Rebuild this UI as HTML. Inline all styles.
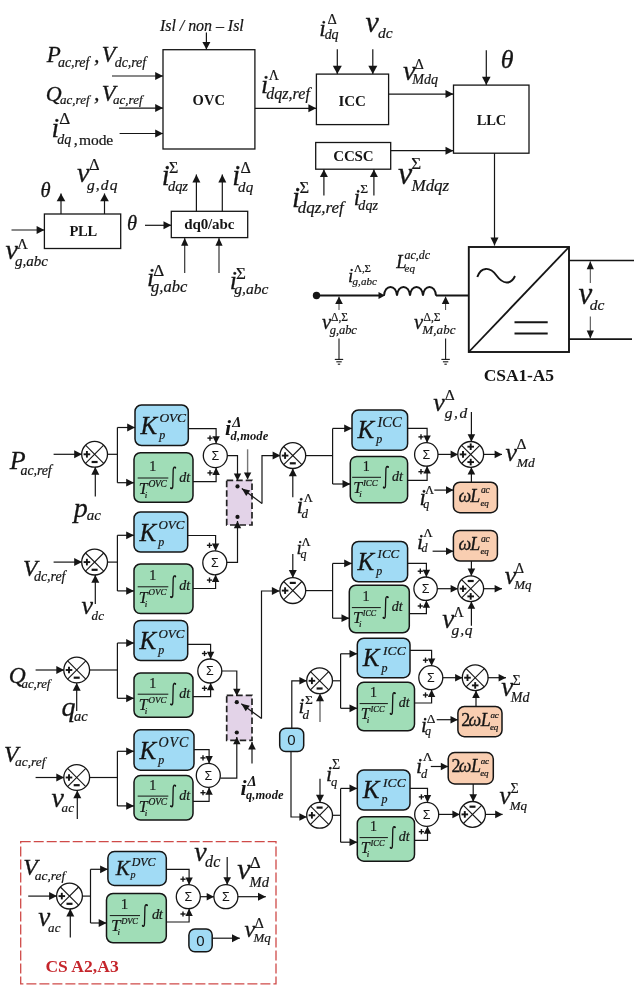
<!DOCTYPE html>
<html><head><meta charset="utf-8"><title>Control diagram</title>
<style>html,body{margin:0;padding:0;background:#fff}svg{display:block;will-change:transform;opacity:0.999}</style></head>
<body><svg width="634" height="987" viewBox="0 0 634 987">
<rect width="634" height="987" fill="#fff"/>
<rect x="163.0" y="49.7" width="91.9" height="99.3" rx="0" fill="#fff" stroke="#151515" stroke-width="1.3"/>
<text x="192.60" y="105.30" font-family="Liberation Serif" font-size="14.5" font-weight="bold" fill="#151515" letter-spacing="0.07">OVC</text>
<text x="160.03" y="30.80" font-family="Liberation Serif" font-size="16.0" font-style="italic" fill="#151515" letter-spacing="-0.05" stroke="#151515" stroke-width="0.20">Isl / non – Isl</text>
<polyline points="206.4,32.5 206.4,49.5" fill="none" stroke="#151515" stroke-width="1.2"/>
<polygon points="206.4,49.5 202.4,41.9 210.4,41.9" fill="#151515"/>
<text x="46.73" y="61.80" font-family="Liberation Serif" font-size="23" font-style="italic" fill="#151515" stroke="#151515" stroke-width="0.30">P</text>
<text x="58.00" y="67.40" font-family="Liberation Serif" font-size="14.0" font-style="italic" fill="#151515" letter-spacing="-0.08" stroke="#151515" stroke-width="0.20">ac,ref</text>
<text x="94.00" y="62.00" font-family="Liberation Serif" font-size="22" font-style="italic" fill="#151515" stroke="#151515" stroke-width="0.30">,</text>
<text x="101.80" y="61.80" font-family="Liberation Serif" font-size="22.5" font-style="italic" fill="#151515" stroke="#151515" stroke-width="0.30">V</text>
<text x="114.80" y="67.40" font-family="Liberation Serif" font-size="14.0" font-style="italic" fill="#151515" letter-spacing="-0.08" stroke="#151515" stroke-width="0.20">dc,ref</text>
<polyline points="112.0,76.0 163.0,76.0" fill="none" stroke="#151515" stroke-width="1.2"/>
<polygon points="163.0,76.0 155.2,72.0 155.2,80.0" fill="#151515"/>
<text x="45.70" y="101.20" font-family="Liberation Serif" font-size="22" font-style="italic" fill="#151515" stroke="#151515" stroke-width="0.30">Q</text>
<text x="60.00" y="104.40" font-family="Liberation Serif" font-size="13.0" font-style="italic" fill="#151515" letter-spacing="0.02" stroke="#151515" stroke-width="0.20">ac,ref</text>
<text x="94.00" y="100.00" font-family="Liberation Serif" font-size="22" font-style="italic" fill="#151515" stroke="#151515" stroke-width="0.30">,</text>
<text x="101.80" y="100.80" font-family="Liberation Serif" font-size="22.5" font-style="italic" fill="#151515" stroke="#151515" stroke-width="0.30">V</text>
<text x="112.90" y="104.40" font-family="Liberation Serif" font-size="13.0" font-style="italic" fill="#151515" letter-spacing="0.04" stroke="#151515" stroke-width="0.20">ac,ref</text>
<polyline points="119.0,108.1 163.0,108.1" fill="none" stroke="#151515" stroke-width="1.2"/>
<polygon points="163.0,108.1 155.2,104.1 155.2,112.1" fill="#151515"/>
<text x="51.40" y="137.40" font-family="Liberation Serif" font-size="27.5" font-style="italic" fill="#151515" stroke="#151515" stroke-width="0.30">i</text>
<text x="59.20" y="124.20" font-family="Liberation Serif" font-size="17.0"  fill="#151515" stroke="#151515" stroke-width="0.20">Δ</text>
<text x="57.30" y="144.00" font-family="Liberation Serif" font-size="14.0" font-style="italic" fill="#151515" letter-spacing="-0.10" stroke="#151515" stroke-width="0.20">dq</text>
<text x="73.80" y="144.50" font-family="Liberation Serif" font-size="16"  fill="#151515" stroke="#151515" stroke-width="0.20">,</text>
<text x="79.00" y="144.50" font-family="Liberation Serif" font-size="15.5"  fill="#151515" letter-spacing="-0.09" stroke="#151515" stroke-width="0.20">mode</text>
<polyline points="119.6,133.5 163.0,133.5" fill="none" stroke="#151515" stroke-width="1.2"/>
<polygon points="163.0,133.5 155.2,129.5 155.2,137.5" fill="#151515"/>
<polyline points="254.9,108.3 316.2,108.3" fill="none" stroke="#151515" stroke-width="1.2"/>
<polygon points="316.2,108.3 308.4,104.3 308.4,112.3" fill="#151515"/>
<text x="261.10" y="92.60" font-family="Liberation Serif" font-size="26" font-style="italic" fill="#151515" stroke="#151515" stroke-width="0.30">i</text>
<text x="268.70" y="79.60" font-family="Liberation Serif" font-size="14.0"  fill="#151515" stroke="#151515" stroke-width="0.20">Λ</text>
<text x="266.20" y="98.50" font-family="Liberation Serif" font-size="16.0" font-style="italic" fill="#151515" letter-spacing="0.04" stroke="#151515" stroke-width="0.20">dqz,ref</text>
<rect x="316.4" y="74.1" width="72.2" height="50.5" rx="0" fill="#fff" stroke="#151515" stroke-width="1.3"/>
<text x="338.45" y="105.50" font-family="Liberation Serif" font-size="15.0" font-weight="bold" fill="#151515">ICC</text>
<text x="319.30" y="35.70" font-family="Liberation Serif" font-size="23.5" font-style="italic" fill="#151515" stroke="#151515" stroke-width="0.30">i</text>
<text x="327.40" y="23.70" font-family="Liberation Serif" font-size="14.5"  fill="#151515" stroke="#151515" stroke-width="0.20">Δ</text>
<text x="324.70" y="39.40" font-family="Liberation Serif" font-size="14.0" font-style="italic" fill="#151515" letter-spacing="-0.20" stroke="#151515" stroke-width="0.20">dq</text>
<polyline points="337.3,49.3 337.3,74.0" fill="none" stroke="#151515" stroke-width="1.2"/>
<polygon points="337.3,74.0 332.8,65.7 341.8,65.7" fill="#151515"/>
<text x="365.40" y="31.60" font-family="Liberation Serif" font-size="30" font-style="italic" fill="#151515" stroke="#151515" stroke-width="0.30">v</text>
<text x="378.00" y="37.50" font-family="Liberation Serif" font-size="15.5" font-style="italic" fill="#151515" letter-spacing="-0.12" stroke="#151515" stroke-width="0.20">dc</text>
<polyline points="372.8,49.3 372.8,74.0" fill="none" stroke="#151515" stroke-width="1.2"/>
<polygon points="372.8,74.0 368.3,65.7 377.3,65.7" fill="#151515"/>
<polyline points="388.6,94.1 453.3,94.1" fill="none" stroke="#151515" stroke-width="1.2"/>
<polygon points="453.3,94.1 445.5,90.1 445.5,98.1" fill="#151515"/>
<text x="403.00" y="80.20" font-family="Liberation Serif" font-size="28" font-style="italic" fill="#151515" stroke="#151515" stroke-width="0.30">v</text>
<text x="414.50" y="68.70" font-family="Liberation Serif" font-size="14.5"  fill="#151515" stroke="#151515" stroke-width="0.20">Δ</text>
<text x="412.25" y="84.30" font-family="Liberation Serif" font-size="14.0" font-style="italic" fill="#151515" letter-spacing="0.06" stroke="#151515" stroke-width="0.20">Mdq</text>
<rect x="453.5" y="85.1" width="75.5" height="68.1" rx="0" fill="#fff" stroke="#151515" stroke-width="1.3"/>
<text x="476.85" y="124.70" font-family="Liberation Serif" font-size="14.5" font-weight="bold" fill="#151515" letter-spacing="-0.19">LLC</text>
<polyline points="486.3,50.3 486.3,85.0" fill="none" stroke="#151515" stroke-width="1.2"/>
<polygon points="486.3,85.0 482.0,76.7 490.6,76.7" fill="#151515"/>
<text x="500.70" y="67.90" font-family="Liberation Serif" font-size="26" font-style="italic" fill="#151515" stroke="#151515" stroke-width="0.30">θ</text>
<rect x="315.7" y="142.5" width="75.0" height="26.7" rx="0" fill="#fff" stroke="#151515" stroke-width="1.3"/>
<text x="333.30" y="161.20" font-family="Liberation Serif" font-size="15.0" font-weight="bold" fill="#151515" letter-spacing="-0.22">CCSC</text>
<polyline points="390.7,150.7 453.3,150.7" fill="none" stroke="#151515" stroke-width="1.2"/>
<polygon points="453.3,150.7 445.5,146.7 445.5,154.7" fill="#151515"/>
<text x="398.00" y="184.10" font-family="Liberation Serif" font-size="32" font-style="italic" fill="#151515" stroke="#151515" stroke-width="0.30">v</text>
<text x="411.30" y="169.30" font-family="Liberation Serif" font-size="17.0"  fill="#151515" stroke="#151515" stroke-width="0.20">Σ</text>
<text x="411.55" y="190.80" font-family="Liberation Serif" font-size="17.0" font-style="italic" fill="#151515" letter-spacing="-0.07" stroke="#151515" stroke-width="0.20">Mdqz</text>
<polyline points="323.9,195.4 323.9,169.4" fill="none" stroke="#151515" stroke-width="1.2"/>
<polygon points="323.9,169.4 319.9,177.0 327.9,177.0" fill="#151515"/>
<polyline points="373.9,195.4 373.9,169.4" fill="none" stroke="#151515" stroke-width="1.2"/>
<polygon points="373.9,169.4 369.9,177.0 377.9,177.0" fill="#151515"/>
<text x="292.10" y="206.80" font-family="Liberation Serif" font-size="29" font-style="italic" fill="#151515" stroke="#151515" stroke-width="0.30">i</text>
<text x="299.40" y="193.20" font-family="Liberation Serif" font-size="16.5"  fill="#151515" stroke="#151515" stroke-width="0.20">Σ</text>
<text x="297.80" y="212.50" font-family="Liberation Serif" font-size="17.0" font-style="italic" fill="#151515" letter-spacing="-0.02" stroke="#151515" stroke-width="0.20">dqz,ref</text>
<text x="353.70" y="204.50" font-family="Liberation Serif" font-size="22.5" font-style="italic" fill="#151515" stroke="#151515" stroke-width="0.30">i</text>
<text x="360.20" y="193.20" font-family="Liberation Serif" font-size="13.5"  fill="#151515" stroke="#151515" stroke-width="0.20">Σ</text>
<text x="358.30" y="210.40" font-family="Liberation Serif" font-size="14.0" font-style="italic" fill="#151515" letter-spacing="0.15" stroke="#151515" stroke-width="0.20">dqz</text>
<polyline points="494.5,153.2 494.5,245.5" fill="none" stroke="#151515" stroke-width="1.2"/>
<polygon points="494.5,245.5 490.5,237.5 498.5,237.5" fill="#151515"/>
<rect x="468.8" y="247.0" width="100.2" height="105.0" rx="0" fill="#fff" stroke="#151515" stroke-width="1.9"/>
<polyline points="468.8,352.0 569.0,247.0" fill="none" stroke="#151515" stroke-width="1.8"/>
<path d="M477.3,277 C481,266.5 490,266.5 496.5,275.5 C503,284.5 511,285 515,276" fill="none" stroke="#151515" stroke-width="1.9"/>
<polyline points="514.5,322.2 547.7,322.2" fill="none" stroke="#151515" stroke-width="2"/>
<polyline points="514.5,333.5 547.7,333.5" fill="none" stroke="#151515" stroke-width="2"/>
<polyline points="569.0,260.5 634.0,260.5" fill="none" stroke="#151515" stroke-width="1.7"/>
<polyline points="569.0,339.2 632.0,339.2" fill="none" stroke="#151515" stroke-width="1.7"/>
<polyline points="590.3,283.0 590.3,261.3" fill="none" stroke="#444" stroke-width="1"/>
<polygon points="590.3,261.3 586.7,269.3 593.9,269.3" fill="#151515"/>
<polyline points="590.3,316.5 590.3,338.4" fill="none" stroke="#444" stroke-width="1"/>
<polygon points="590.3,338.4 586.7,330.4 593.9,330.4" fill="#151515"/>
<text x="578.40" y="304.00" font-family="Liberation Serif" font-size="31" font-style="italic" fill="#151515" stroke="#151515" stroke-width="0.30">v</text>
<text x="589.70" y="310.20" font-family="Liberation Serif" font-size="15.5" font-style="italic" fill="#151515" letter-spacing="0.18" stroke="#151515" stroke-width="0.20">dc</text>
<text x="483.80" y="381.20" font-family="Liberation Serif" font-size="17.5" font-weight="bold" fill="#151515" letter-spacing="-0.13">CSA1-A5</text>
<circle cx="316.5" cy="295.5" r="3.7" fill="#151515"/>
<polyline points="316.5,295.5 381.0,295.5" fill="none" stroke="#151515" stroke-width="1.9"/>
<polygon points="385.0,295.5 378.5,292.0 378.5,299.0" fill="#151515"/>
<path d="M384,295.8 C384.5,284 396.5,284 397.0,295.8 C397.5,284 409.5,284 410.0,295.8 C410.5,284 422.5,284 423.0,295.8 C423.5,284 435.5,284 436.0,295.8 " fill="none" stroke="#151515" stroke-width="1.9"/>
<polyline points="436.0,295.5 468.8,295.5" fill="none" stroke="#151515" stroke-width="1.9"/>
<text x="348.00" y="281.80" font-family="Liberation Serif" font-size="19" font-style="italic" fill="#151515" stroke="#151515" stroke-width="0.30">i</text>
<text x="354.00" y="272.00" font-family="Liberation Serif" font-size="11.0"  fill="#151515" letter-spacing="-0.06" stroke="#151515" stroke-width="0.20">Λ,Σ</text>
<text x="352.50" y="284.70" font-family="Liberation Serif" font-size="11.0" font-style="italic" fill="#151515" letter-spacing="0.09" stroke="#151515" stroke-width="0.20">g,abc</text>
<text x="396.25" y="267.70" font-family="Liberation Serif" font-size="18.5" font-style="italic" fill="#151515" stroke="#151515" stroke-width="0.30">L</text>
<text x="404.50" y="259.00" font-family="Liberation Serif" font-size="12.0" font-style="italic" fill="#151515" letter-spacing="-0.03" stroke="#151515" stroke-width="0.20">ac,dc</text>
<text x="404.50" y="272.00" font-family="Liberation Serif" font-size="11.0" font-style="italic" fill="#151515" letter-spacing="0.12" stroke="#151515" stroke-width="0.20">eq</text>
<polyline points="339.0,310.0 339.0,296.5" fill="none" stroke="#444" stroke-width="1"/>
<polygon points="339.0,296.5 335.2,304.0 342.8,304.0" fill="#151515"/>
<polyline points="339.0,338.6 339.0,359.4" fill="none" stroke="#151515" stroke-width="1.1"/>
<polyline points="334.8,359.4 343.2,359.4" fill="none" stroke="#151515" stroke-width="1.1"/>
<polyline points="336.3,361.8 341.7,361.8" fill="none" stroke="#151515" stroke-width="1.1"/>
<polyline points="337.8,364.2 340.2,364.2" fill="none" stroke="#151515" stroke-width="1.1"/>
<polyline points="445.6,310.0 445.6,296.5" fill="none" stroke="#444" stroke-width="1"/>
<polygon points="445.6,296.5 441.8,304.0 449.4,304.0" fill="#151515"/>
<polyline points="445.6,338.6 445.6,359.4" fill="none" stroke="#151515" stroke-width="1.1"/>
<polyline points="441.4,359.4 449.8,359.4" fill="none" stroke="#151515" stroke-width="1.1"/>
<polyline points="442.9,361.8 448.3,361.8" fill="none" stroke="#151515" stroke-width="1.1"/>
<polyline points="444.4,364.2 446.8,364.2" fill="none" stroke="#151515" stroke-width="1.1"/>
<text x="322.00" y="328.70" font-family="Liberation Serif" font-size="20.5" font-style="italic" fill="#151515" stroke="#151515" stroke-width="0.30">v</text>
<text x="331.00" y="321.00" font-family="Liberation Serif" font-size="11.5"  fill="#151515" stroke="#151515" stroke-width="0.20">Δ,Σ</text>
<text x="329.80" y="334.40" font-family="Liberation Serif" font-size="12.5" font-style="italic" fill="#151515" letter-spacing="-0.09" stroke="#151515" stroke-width="0.20">g,abc</text>
<text x="414.00" y="328.70" font-family="Liberation Serif" font-size="20.5" font-style="italic" fill="#151515" stroke="#151515" stroke-width="0.30">v</text>
<text x="423.50" y="321.00" font-family="Liberation Serif" font-size="11.5"  fill="#151515" stroke="#151515" stroke-width="0.20">Δ,Σ</text>
<text x="422.25" y="334.40" font-family="Liberation Serif" font-size="13.0" font-style="italic" fill="#151515" letter-spacing="0.12" stroke="#151515" stroke-width="0.20">M,abc</text>
<rect x="44.4" y="214.0" width="76.3" height="34.5" rx="0" fill="#fff" stroke="#151515" stroke-width="1.3"/>
<text x="69.40" y="235.80" font-family="Liberation Serif" font-size="14.5" font-weight="bold" fill="#151515" letter-spacing="-0.22">PLL</text>
<polyline points="11.5,230.0 44.4,230.0" fill="none" stroke="#151515" stroke-width="1.2"/>
<polygon points="44.4,230.0 36.6,226.0 36.6,234.0" fill="#151515"/>
<text x="5.50" y="259.00" font-family="Liberation Serif" font-size="28" font-style="italic" fill="#151515" stroke="#151515" stroke-width="0.30">v</text>
<text x="17.00" y="249.00" font-family="Liberation Serif" font-size="15.0"  fill="#151515" stroke="#151515" stroke-width="0.20">Λ</text>
<text x="15.00" y="266.00" font-family="Liberation Serif" font-size="15.0" font-style="italic" fill="#151515" letter-spacing="0.03" stroke="#151515" stroke-width="0.20">g,abc</text>
<polyline points="61.0,214.0 61.0,193.5" fill="none" stroke="#151515" stroke-width="1.2"/>
<polygon points="61.0,193.5 56.7,201.3 65.3,201.3" fill="#151515"/>
<text x="40.40" y="196.70" font-family="Liberation Serif" font-size="20.5" font-style="italic" fill="#151515" stroke="#151515" stroke-width="0.30">θ</text>
<polyline points="104.5,214.0 104.5,193.5" fill="none" stroke="#151515" stroke-width="1.2"/>
<polygon points="104.5,193.5 100.2,201.3 108.8,201.3" fill="#151515"/>
<text x="77.00" y="181.50" font-family="Liberation Serif" font-size="28" font-style="italic" fill="#151515" stroke="#151515" stroke-width="0.30">v</text>
<text x="89.00" y="169.60" font-family="Liberation Serif" font-size="16.5"  fill="#151515" stroke="#151515" stroke-width="0.20">Δ</text>
<text x="87.00" y="189.50" font-family="Liberation Serif" font-size="15.5" font-style="italic" fill="#151515" letter-spacing="1.12" stroke="#151515" stroke-width="0.20">g,dq</text>
<text x="127.00" y="230.00" font-family="Liberation Serif" font-size="20.5" font-style="italic" fill="#151515" stroke="#151515" stroke-width="0.30">θ</text>
<polyline points="145.0,225.3 171.3,225.3" fill="none" stroke="#151515" stroke-width="1.2"/>
<polygon points="171.3,225.3 163.5,221.3 163.5,229.3" fill="#151515"/>
<rect x="171.3" y="211.3" width="76.4" height="26.3" rx="0" fill="#fff" stroke="#151515" stroke-width="1.3"/>
<text x="184.25" y="228.70" font-family="Liberation Serif" font-size="15.0" font-weight="bold" fill="#151515" letter-spacing="-0.13">dq0/abc</text>
<polyline points="196.4,211.3 196.4,174.6" fill="none" stroke="#151515" stroke-width="1.2"/>
<polygon points="196.4,174.6 192.4,182.4 200.4,182.4" fill="#151515"/>
<polyline points="222.3,211.3 222.3,174.6" fill="none" stroke="#151515" stroke-width="1.2"/>
<polygon points="222.3,174.6 218.3,182.4 226.3,182.4" fill="#151515"/>
<text x="161.70" y="185.00" font-family="Liberation Serif" font-size="28.5" font-style="italic" fill="#151515" stroke="#151515" stroke-width="0.30">i</text>
<text x="168.90" y="172.70" font-family="Liberation Serif" font-size="16.0"  fill="#151515" stroke="#151515" stroke-width="0.20">Σ</text>
<text x="168.00" y="190.70" font-family="Liberation Serif" font-size="14.5" font-style="italic" fill="#151515" letter-spacing="-0.11" stroke="#151515" stroke-width="0.20">dqz</text>
<text x="232.30" y="185.00" font-family="Liberation Serif" font-size="28.5" font-style="italic" fill="#151515" stroke="#151515" stroke-width="0.30">i</text>
<text x="240.50" y="172.70" font-family="Liberation Serif" font-size="16.0"  fill="#151515" stroke="#151515" stroke-width="0.20">Δ</text>
<text x="238.00" y="191.60" font-family="Liberation Serif" font-size="15.0" font-style="italic" fill="#151515" letter-spacing="0.20" stroke="#151515" stroke-width="0.20">dq</text>
<polyline points="184.7,273.0 184.7,238.0" fill="none" stroke="#333" stroke-width="1.2"/>
<polygon points="184.7,238.0 181.1,245.8 188.3,245.8" fill="#151515"/>
<polyline points="219.0,273.0 219.0,238.0" fill="none" stroke="#333" stroke-width="1.2"/>
<polygon points="219.0,238.0 215.4,245.8 222.6,245.8" fill="#151515"/>
<text x="147.00" y="286.40" font-family="Liberation Serif" font-size="26" font-style="italic" fill="#151515" stroke="#151515" stroke-width="0.30">i</text>
<text x="153.30" y="276.00" font-family="Liberation Serif" font-size="17.0"  fill="#151515" stroke="#151515" stroke-width="0.20">Δ</text>
<text x="151.00" y="291.80" font-family="Liberation Serif" font-size="16.5" font-style="italic" fill="#151515" letter-spacing="0.04" stroke="#151515" stroke-width="0.20">g,abc</text>
<text x="229.80" y="289.00" font-family="Liberation Serif" font-size="26" font-style="italic" fill="#151515" stroke="#151515" stroke-width="0.30">i</text>
<text x="236.00" y="279.00" font-family="Liberation Serif" font-size="17.0"  fill="#151515" stroke="#151515" stroke-width="0.20">Σ</text>
<text x="234.30" y="294.40" font-family="Liberation Serif" font-size="15.5" font-style="italic" fill="#151515" stroke="#151515" stroke-width="0.20">g,abc</text>
<polyline points="53.6,454.3 82.0,454.3" fill="none" stroke="#151515" stroke-width="1.2"/>
<polygon points="82.0,454.3 74.2,450.3 74.2,458.3" fill="#151515"/>
<polyline points="107.2,454.3 117.4,454.3" fill="none" stroke="#151515" stroke-width="1.2"/>
<polyline points="117.4,427.5 117.4,482.7" fill="none" stroke="#151515" stroke-width="1.2"/>
<polyline points="117.4,427.5 135.0,427.5" fill="none" stroke="#151515" stroke-width="1.2"/>
<polygon points="135.0,427.5 127.2,423.6 127.2,431.4" fill="#151515"/>
<polyline points="117.4,482.7 134.0,482.7" fill="none" stroke="#151515" stroke-width="1.2"/>
<polygon points="134.0,482.7 126.2,478.8 126.2,486.6" fill="#151515"/>
<rect x="135.0" y="405.0" width="53.3" height="40.5" rx="6.5" fill="#a1dbf5" stroke="#151515" stroke-width="1.5"/>
<text x="140.38" y="433.80" font-family="Liberation Serif" font-size="25" font-style="italic" fill="#151515" stroke="#151515" stroke-width="0.30">K</text>
<text x="159.50" y="422.30" font-family="Liberation Serif" font-size="13.5" font-style="italic" fill="#151515" letter-spacing="-0.28" stroke="#151515" stroke-width="0.20">OVC</text>
<text x="159.25" y="438.80" font-family="Liberation Serif" font-size="12" font-style="italic" fill="#151515" stroke="#151515" stroke-width="0.20">p</text>
<rect x="134.0" y="452.7" width="59.0" height="49.6" rx="6.5" fill="#a0ddb7" stroke="#151515" stroke-width="1.5"/>
<text x="149.20" y="471.40" font-family="Liberation Serif" font-size="14.0"  fill="#151515" stroke="#151515" stroke-width="0.20">1</text>
<polyline points="137.7,478.0 168.3,478.0" fill="none" stroke="#151515" stroke-width="1"/>
<text x="138.80" y="493.70" font-family="Liberation Serif" font-size="16.0" font-style="italic" fill="#151515" stroke="#151515" stroke-width="0.20">T</text>
<text x="144.80" y="497.70" font-family="Liberation Serif" font-size="9" font-style="italic" fill="#151515" stroke="#151515" stroke-width="0.20">i</text>
<text x="148.40" y="486.60" font-family="Liberation Serif" font-size="9.5" font-style="italic" fill="#151515" letter-spacing="-0.22" stroke="#151515" stroke-width="0.20">OVC</text>
<path d="M170.9,488.1 c0.6,1.2 1.8,0.6 1.9,-1.8 l0.4,-16.5 c0.15,-2.7 1.4,-3.4 2.2,-2.2" fill="none" stroke="#151515" stroke-width="1.3" stroke-linecap="round"/>
<circle cx="171.0" cy="488.1" r="0.9" fill="#151515"/><circle cx="175.3" cy="467.7" r="0.9" fill="#151515"/>
<text x="179.20" y="481.50" font-family="Liberation Serif" font-size="14.0" font-style="italic" fill="#151515" letter-spacing="0.05" stroke="#151515" stroke-width="0.20">dt</text>
<polyline points="188.3,428.6 216.1,428.6 216.1,443.6" fill="none" stroke="#151515" stroke-width="1.2"/>
<polygon points="216.1,443.6 212.4,436.3 219.8,436.3" fill="#151515"/>
<polyline points="193.0,481.6 216.1,481.6 216.1,467.6" fill="none" stroke="#151515" stroke-width="1.2"/>
<polygon points="216.1,467.6 212.4,474.9 219.8,474.9" fill="#151515"/>
<polyline points="207.4,438.1 212.6,438.1" fill="none" stroke="#151515" stroke-width="1.4"/>
<polyline points="210.0,435.5 210.0,440.7" fill="none" stroke="#151515" stroke-width="1.4"/>
<polyline points="207.4,472.9 212.6,472.9" fill="none" stroke="#151515" stroke-width="1.4"/>
<polyline points="210.0,470.3 210.0,475.5" fill="none" stroke="#151515" stroke-width="1.4"/>
<circle cx="215.3" cy="455.6" r="12.0" fill="#fff" stroke="#151515" stroke-width="1.3"/>
<text x="211.43" y="460.00" font-family="Liberation Sans" font-size="12.5"  fill="#151515">Σ</text>
<circle cx="94.6" cy="454.3" r="12.9" fill="#fff" stroke="#151515" stroke-width="1.3"/>
<polyline points="85.5,445.2 103.7,463.4" fill="none" stroke="#151515" stroke-width="1.1"/>
<polyline points="85.5,463.4 103.7,445.2" fill="none" stroke="#151515" stroke-width="1.1"/>
<polyline points="83.6,454.3 90.2,454.3" fill="none" stroke="#151515" stroke-width="1.9"/>
<polyline points="86.9,451.0 86.9,457.6" fill="none" stroke="#151515" stroke-width="1.9"/>
<polyline points="91.6,462.0 97.6,462.0" fill="none" stroke="#151515" stroke-width="2.2"/>
<text x="9.75" y="469.00" font-family="Liberation Serif" font-size="26" font-style="italic" fill="#151515" stroke="#151515" stroke-width="0.30">P</text>
<text x="20.50" y="474.50" font-family="Liberation Serif" font-size="14.0" font-style="italic" fill="#151515" letter-spacing="-0.10" stroke="#151515" stroke-width="0.20">ac,ref</text>
<polyline points="95.3,496.6 95.3,467.0" fill="none" stroke="#151515" stroke-width="1.2"/>
<polygon points="95.3,467.0 91.3,474.8 99.3,474.8" fill="#151515"/>
<text x="73.75" y="516.50" font-family="Liberation Serif" font-size="28" font-style="italic" fill="#151515" stroke="#151515" stroke-width="0.30">p</text>
<text x="86.80" y="519.60" font-family="Liberation Serif" font-size="15.0" font-style="italic" fill="#151515" letter-spacing="0.07" stroke="#151515" stroke-width="0.20">ac</text>
<polyline points="53.6,562.1 82.0,562.1" fill="none" stroke="#151515" stroke-width="1.2"/>
<polygon points="82.0,562.1 74.2,558.1 74.2,566.1" fill="#151515"/>
<polyline points="107.2,562.1 117.4,562.1" fill="none" stroke="#151515" stroke-width="1.2"/>
<polyline points="117.4,535.3 117.4,590.9" fill="none" stroke="#151515" stroke-width="1.2"/>
<polyline points="117.4,535.3 134.0,535.3" fill="none" stroke="#151515" stroke-width="1.2"/>
<polygon points="134.0,535.3 126.2,531.4 126.2,539.2" fill="#151515"/>
<polyline points="117.4,590.9 134.0,590.9" fill="none" stroke="#151515" stroke-width="1.2"/>
<polygon points="134.0,590.9 126.2,587.0 126.2,594.8" fill="#151515"/>
<rect x="134.0" y="512.0" width="53.7" height="40.0" rx="6.5" fill="#a1dbf5" stroke="#151515" stroke-width="1.5"/>
<text x="139.38" y="540.80" font-family="Liberation Serif" font-size="25" font-style="italic" fill="#151515" stroke="#151515" stroke-width="0.30">K</text>
<text x="158.50" y="529.30" font-family="Liberation Serif" font-size="13.0" font-style="italic" fill="#151515" letter-spacing="-0.03" stroke="#151515" stroke-width="0.20">OVC</text>
<text x="158.25" y="545.80" font-family="Liberation Serif" font-size="12" font-style="italic" fill="#151515" stroke="#151515" stroke-width="0.20">p</text>
<rect x="134.0" y="564.0" width="59.0" height="49.6" rx="6.5" fill="#a0ddb7" stroke="#151515" stroke-width="1.5"/>
<text x="149.20" y="580.20" font-family="Liberation Serif" font-size="14.0"  fill="#151515" stroke="#151515" stroke-width="0.20">1</text>
<polyline points="137.7,586.8 168.3,586.8" fill="none" stroke="#151515" stroke-width="1"/>
<text x="138.80" y="602.50" font-family="Liberation Serif" font-size="16.0" font-style="italic" fill="#151515" stroke="#151515" stroke-width="0.20">T</text>
<text x="144.80" y="606.50" font-family="Liberation Serif" font-size="9" font-style="italic" fill="#151515" stroke="#151515" stroke-width="0.20">i</text>
<text x="148.40" y="595.40" font-family="Liberation Serif" font-size="9.0" font-style="italic" fill="#151515" letter-spacing="0.11" stroke="#151515" stroke-width="0.20">OVC</text>
<path d="M170.9,596.9 c0.6,1.2 1.8,0.6 1.9,-1.8 l0.4,-16.5 c0.15,-2.7 1.4,-3.4 2.2,-2.2" fill="none" stroke="#151515" stroke-width="1.3" stroke-linecap="round"/>
<circle cx="171.0" cy="596.9" r="0.9" fill="#151515"/><circle cx="175.3" cy="576.5" r="0.9" fill="#151515"/>
<text x="179.20" y="590.30" font-family="Liberation Serif" font-size="14.0" font-style="italic" fill="#151515" letter-spacing="0.05" stroke="#151515" stroke-width="0.20">dt</text>
<polyline points="187.7,535.5 215.6,535.5 215.6,550.8" fill="none" stroke="#151515" stroke-width="1.2"/>
<polygon points="215.6,550.8 211.9,543.5 219.3,543.5" fill="#151515"/>
<polyline points="193.0,588.5 215.6,588.5 215.6,574.8" fill="none" stroke="#151515" stroke-width="1.2"/>
<polygon points="215.6,574.8 211.9,582.1 219.3,582.1" fill="#151515"/>
<polyline points="206.9,545.3 212.1,545.3" fill="none" stroke="#151515" stroke-width="1.4"/>
<polyline points="209.5,542.7 209.5,547.9" fill="none" stroke="#151515" stroke-width="1.4"/>
<polyline points="206.9,580.1 212.1,580.1" fill="none" stroke="#151515" stroke-width="1.4"/>
<polyline points="209.5,577.5 209.5,582.7" fill="none" stroke="#151515" stroke-width="1.4"/>
<circle cx="214.8" cy="562.8" r="12.0" fill="#fff" stroke="#151515" stroke-width="1.3"/>
<text x="210.93" y="567.20" font-family="Liberation Sans" font-size="12.5"  fill="#151515">Σ</text>
<circle cx="94.6" cy="562.1" r="12.9" fill="#fff" stroke="#151515" stroke-width="1.3"/>
<polyline points="85.5,553.0 103.7,571.2" fill="none" stroke="#151515" stroke-width="1.1"/>
<polyline points="85.5,571.2 103.7,553.0" fill="none" stroke="#151515" stroke-width="1.1"/>
<polyline points="83.6,562.1 90.2,562.1" fill="none" stroke="#151515" stroke-width="1.9"/>
<polyline points="86.9,558.8 86.9,565.4" fill="none" stroke="#151515" stroke-width="1.9"/>
<polyline points="91.6,569.8 97.6,569.8" fill="none" stroke="#151515" stroke-width="2.2"/>
<text x="23.00" y="576.30" font-family="Liberation Serif" font-size="23.5" font-style="italic" fill="#151515" stroke="#151515" stroke-width="0.30">V</text>
<text x="34.00" y="581.40" font-family="Liberation Serif" font-size="14.0" font-style="italic" fill="#151515" letter-spacing="-0.06" stroke="#151515" stroke-width="0.20">dc,ref</text>
<polyline points="95.3,604.0 95.3,575.0" fill="none" stroke="#151515" stroke-width="1.2"/>
<polygon points="95.3,575.0 91.3,582.8 99.3,582.8" fill="#151515"/>
<text x="81.40" y="613.60" font-family="Liberation Serif" font-size="26" font-style="italic" fill="#151515" stroke="#151515" stroke-width="0.30">v</text>
<text x="91.50" y="619.90" font-family="Liberation Serif" font-size="13.0" font-style="italic" fill="#151515" letter-spacing="0.25" stroke="#151515" stroke-width="0.20">dc</text>
<polyline points="35.6,670.0 64.1,670.0" fill="none" stroke="#151515" stroke-width="1.2"/>
<polygon points="64.1,670.0 56.3,666.0 56.3,674.0" fill="#151515"/>
<polyline points="89.3,670.0 117.4,670.0" fill="none" stroke="#151515" stroke-width="1.2"/>
<polyline points="117.4,643.0 117.4,698.3" fill="none" stroke="#151515" stroke-width="1.2"/>
<polyline points="117.4,643.0 134.0,643.0" fill="none" stroke="#151515" stroke-width="1.2"/>
<polygon points="134.0,643.0 126.2,639.1 126.2,646.9" fill="#151515"/>
<polyline points="117.4,698.3 134.0,698.3" fill="none" stroke="#151515" stroke-width="1.2"/>
<polygon points="134.0,698.3 126.2,694.4 126.2,702.2" fill="#151515"/>
<rect x="134.0" y="620.4" width="53.7" height="40.1" rx="6.5" fill="#a1dbf5" stroke="#151515" stroke-width="1.5"/>
<text x="139.38" y="649.20" font-family="Liberation Serif" font-size="25" font-style="italic" fill="#151515" stroke="#151515" stroke-width="0.30">K</text>
<text x="158.50" y="637.70" font-family="Liberation Serif" font-size="13.0" font-style="italic" fill="#151515" letter-spacing="-0.03" stroke="#151515" stroke-width="0.20">OVC</text>
<text x="158.25" y="654.20" font-family="Liberation Serif" font-size="12" font-style="italic" fill="#151515" stroke="#151515" stroke-width="0.20">p</text>
<rect x="134.0" y="673.0" width="59.0" height="44.3" rx="6.5" fill="#a0ddb7" stroke="#151515" stroke-width="1.5"/>
<text x="149.20" y="687.60" font-family="Liberation Serif" font-size="14.0"  fill="#151515" stroke="#151515" stroke-width="0.20">1</text>
<polyline points="137.7,694.2 168.3,694.2" fill="none" stroke="#151515" stroke-width="1"/>
<text x="138.80" y="709.90" font-family="Liberation Serif" font-size="16.0" font-style="italic" fill="#151515" stroke="#151515" stroke-width="0.20">T</text>
<text x="144.80" y="713.90" font-family="Liberation Serif" font-size="9" font-style="italic" fill="#151515" stroke="#151515" stroke-width="0.20">i</text>
<text x="148.40" y="702.80" font-family="Liberation Serif" font-size="9.0" font-style="italic" fill="#151515" letter-spacing="0.11" stroke="#151515" stroke-width="0.20">OVC</text>
<path d="M170.9,704.3 c0.6,1.2 1.8,0.6 1.9,-1.8 l0.4,-16.5 c0.15,-2.7 1.4,-3.4 2.2,-2.2" fill="none" stroke="#151515" stroke-width="1.3" stroke-linecap="round"/>
<circle cx="171.0" cy="704.3" r="0.9" fill="#151515"/><circle cx="175.3" cy="683.9" r="0.9" fill="#151515"/>
<text x="179.20" y="697.70" font-family="Liberation Serif" font-size="14.0" font-style="italic" fill="#151515" letter-spacing="0.05" stroke="#151515" stroke-width="0.20">dt</text>
<polyline points="187.7,644.3 210.6,644.3 210.6,659.0" fill="none" stroke="#151515" stroke-width="1.2"/>
<polygon points="210.6,659.0 206.9,651.7 214.3,651.7" fill="#151515"/>
<polyline points="193.0,696.7 210.6,696.7 210.6,683.0" fill="none" stroke="#151515" stroke-width="1.2"/>
<polygon points="210.6,683.0 206.9,690.3 214.3,690.3" fill="#151515"/>
<polyline points="201.9,653.5 207.1,653.5" fill="none" stroke="#151515" stroke-width="1.4"/>
<polyline points="204.5,650.9 204.5,656.1" fill="none" stroke="#151515" stroke-width="1.4"/>
<polyline points="201.9,688.3 207.1,688.3" fill="none" stroke="#151515" stroke-width="1.4"/>
<polyline points="204.5,685.7 204.5,690.9" fill="none" stroke="#151515" stroke-width="1.4"/>
<circle cx="209.8" cy="671.0" r="12.0" fill="#fff" stroke="#151515" stroke-width="1.3"/>
<text x="205.93" y="675.40" font-family="Liberation Sans" font-size="12.5"  fill="#151515">Σ</text>
<circle cx="76.7" cy="670.0" r="12.9" fill="#fff" stroke="#151515" stroke-width="1.3"/>
<polyline points="67.6,660.9 85.8,679.1" fill="none" stroke="#151515" stroke-width="1.1"/>
<polyline points="67.6,679.1 85.8,660.9" fill="none" stroke="#151515" stroke-width="1.1"/>
<polyline points="65.7,670.0 72.3,670.0" fill="none" stroke="#151515" stroke-width="1.9"/>
<polyline points="69.0,666.7 69.0,673.3" fill="none" stroke="#151515" stroke-width="1.9"/>
<polyline points="73.7,677.7 79.7,677.7" fill="none" stroke="#151515" stroke-width="2.2"/>
<text x="8.80" y="683.00" font-family="Liberation Serif" font-size="23.5" font-style="italic" fill="#151515" stroke="#151515" stroke-width="0.30">Q</text>
<text x="21.50" y="688.20" font-family="Liberation Serif" font-size="13.0" font-style="italic" fill="#151515" letter-spacing="-0.10" stroke="#151515" stroke-width="0.20">ac,ref</text>
<polyline points="76.7,711.0 76.7,683.0" fill="none" stroke="#151515" stroke-width="1.2"/>
<polygon points="76.7,683.0 72.7,690.8 80.7,690.8" fill="#151515"/>
<text x="61.50" y="715.70" font-family="Liberation Serif" font-size="28" font-style="italic" fill="#151515" stroke="#151515" stroke-width="0.30">q</text>
<text x="74.00" y="721.00" font-family="Liberation Serif" font-size="14.5" font-style="italic" fill="#151515" letter-spacing="0.07" stroke="#151515" stroke-width="0.20">ac</text>
<polyline points="35.6,777.5 64.1,777.5" fill="none" stroke="#151515" stroke-width="1.2"/>
<polygon points="64.1,777.5 56.3,773.5 56.3,781.5" fill="#151515"/>
<polyline points="89.3,777.5 117.4,777.5" fill="none" stroke="#151515" stroke-width="1.2"/>
<polyline points="117.4,751.3 117.4,805.9" fill="none" stroke="#151515" stroke-width="1.2"/>
<polyline points="117.4,751.3 134.0,751.3" fill="none" stroke="#151515" stroke-width="1.2"/>
<polygon points="134.0,751.3 126.2,747.4 126.2,755.2" fill="#151515"/>
<polyline points="117.4,805.9 134.0,805.9" fill="none" stroke="#151515" stroke-width="1.2"/>
<polygon points="134.0,805.9 126.2,802.0 126.2,809.8" fill="#151515"/>
<rect x="134.0" y="729.8" width="60.0" height="40.4" rx="6.5" fill="#a1dbf5" stroke="#151515" stroke-width="1.5"/>
<text x="139.38" y="758.60" font-family="Liberation Serif" font-size="25" font-style="italic" fill="#151515" stroke="#151515" stroke-width="0.30">K</text>
<text x="158.50" y="746.50" font-family="Liberation Serif" font-size="14" font-style="italic" fill="#151515" letter-spacing="0.94" stroke="#151515" stroke-width="0.20">OVC</text>
<text x="158.25" y="763.60" font-family="Liberation Serif" font-size="12" font-style="italic" fill="#151515" stroke="#151515" stroke-width="0.20">p</text>
<rect x="134.0" y="775.6" width="59.0" height="44.4" rx="6.5" fill="#a0ddb7" stroke="#151515" stroke-width="1.5"/>
<text x="149.20" y="789.50" font-family="Liberation Serif" font-size="14.0"  fill="#151515" stroke="#151515" stroke-width="0.20">1</text>
<polyline points="137.7,796.1 168.3,796.1" fill="none" stroke="#151515" stroke-width="1"/>
<text x="138.80" y="811.80" font-family="Liberation Serif" font-size="16.0" font-style="italic" fill="#151515" stroke="#151515" stroke-width="0.20">T</text>
<text x="144.80" y="815.80" font-family="Liberation Serif" font-size="9" font-style="italic" fill="#151515" stroke="#151515" stroke-width="0.20">i</text>
<text x="148.40" y="804.70" font-family="Liberation Serif" font-size="9.5" font-style="italic" fill="#151515" letter-spacing="-0.11" stroke="#151515" stroke-width="0.20">OVC</text>
<path d="M170.9,806.2 c0.6,1.2 1.8,0.6 1.9,-1.8 l0.4,-16.5 c0.15,-2.7 1.4,-3.4 2.2,-2.2" fill="none" stroke="#151515" stroke-width="1.3" stroke-linecap="round"/>
<circle cx="171.0" cy="806.2" r="0.9" fill="#151515"/><circle cx="175.3" cy="785.8" r="0.9" fill="#151515"/>
<text x="179.20" y="799.60" font-family="Liberation Serif" font-size="14.0" font-style="italic" fill="#151515" letter-spacing="0.05" stroke="#151515" stroke-width="0.20">dt</text>
<polyline points="194.0,749.7 209.1,749.7 209.1,763.4" fill="none" stroke="#151515" stroke-width="1.2"/>
<polygon points="209.1,763.4 205.4,756.1 212.8,756.1" fill="#151515"/>
<polyline points="193.0,801.4 209.1,801.4 209.1,787.4" fill="none" stroke="#151515" stroke-width="1.2"/>
<polygon points="209.1,787.4 205.4,794.7 212.8,794.7" fill="#151515"/>
<polyline points="200.4,757.9 205.6,757.9" fill="none" stroke="#151515" stroke-width="1.4"/>
<polyline points="203.0,755.3 203.0,760.5" fill="none" stroke="#151515" stroke-width="1.4"/>
<polyline points="200.4,792.7 205.6,792.7" fill="none" stroke="#151515" stroke-width="1.4"/>
<polyline points="203.0,790.1 203.0,795.3" fill="none" stroke="#151515" stroke-width="1.4"/>
<circle cx="208.3" cy="775.4" r="12.0" fill="#fff" stroke="#151515" stroke-width="1.3"/>
<text x="204.43" y="779.80" font-family="Liberation Sans" font-size="12.5"  fill="#151515">Σ</text>
<circle cx="76.7" cy="777.5" r="12.9" fill="#fff" stroke="#151515" stroke-width="1.3"/>
<polyline points="67.6,768.4 85.8,786.6" fill="none" stroke="#151515" stroke-width="1.1"/>
<polyline points="67.6,786.6 85.8,768.4" fill="none" stroke="#151515" stroke-width="1.1"/>
<polyline points="65.7,777.5 72.3,777.5" fill="none" stroke="#151515" stroke-width="1.9"/>
<polyline points="69.0,774.2 69.0,780.8" fill="none" stroke="#151515" stroke-width="1.9"/>
<polyline points="73.7,785.2 79.7,785.2" fill="none" stroke="#151515" stroke-width="2.2"/>
<text x="4.00" y="761.70" font-family="Liberation Serif" font-size="23.5" font-style="italic" fill="#151515" stroke="#151515" stroke-width="0.30">V</text>
<text x="15.00" y="766.00" font-family="Liberation Serif" font-size="13.5" font-style="italic" fill="#151515" stroke="#151515" stroke-width="0.20">ac,ref</text>
<polyline points="77.3,819.0 77.3,790.5" fill="none" stroke="#151515" stroke-width="1.2"/>
<polygon points="77.3,790.5 73.3,798.3 81.3,798.3" fill="#151515"/>
<text x="51.40" y="806.50" font-family="Liberation Serif" font-size="28" font-style="italic" fill="#151515" stroke="#151515" stroke-width="0.30">v</text>
<text x="61.50" y="812.00" font-family="Liberation Serif" font-size="13.0" font-style="italic" fill="#151515" letter-spacing="0.25" stroke="#151515" stroke-width="0.20">ac</text>
<rect x="226.7" y="480.3" width="25.3" height="44.7" rx="0" fill="#e3d3e8" stroke="#222" stroke-width="1.7" stroke-dasharray="6.5,3"/>
<circle cx="237.5" cy="486.4" r="2.1" fill="#151515"/>
<circle cx="237.5" cy="516.9" r="2.1" fill="#151515"/>
<polyline points="227.3,455.6 237.5,455.6 237.5,480.8" fill="none" stroke="#151515" stroke-width="1.2"/>
<polygon points="237.5,480.8 233.8,473.5 241.2,473.5" fill="#151515"/>
<polyline points="226.8,562.3 237.5,562.3 237.5,521.0" fill="none" stroke="#151515" stroke-width="1.2"/>
<polygon points="237.5,521.0 233.8,528.3 241.2,528.3" fill="#151515"/>
<polyline points="247.6,449.3 247.6,479.5" fill="none" stroke="#777" stroke-width="1.4"/>
<polygon points="247.6,479.5 243.9,472.5 251.3,472.5" fill="#151515"/>
<polyline points="262.0,503.5 241.8,488.4" fill="none" stroke="#151515" stroke-width="1.2"/>
<polygon points="241.8,488.4 250.2,490.5 246.2,495.9" fill="#151515"/>
<polyline points="262.0,503.5 262.0,455.6 280.4,455.6" fill="none" stroke="#151515" stroke-width="1.2"/>
<polygon points="280.4,455.6 272.6,451.6 272.6,459.6" fill="#151515"/>
<text x="225.00" y="434.90" font-family="Liberation Serif" font-size="22" font-style="italic" font-weight="bold" fill="#151515">i</text>
<text x="232.20" y="426.50" font-family="Liberation Serif" font-size="14.5" font-style="italic" font-weight="bold" fill="#151515">Δ</text>
<text x="230.50" y="440.00" font-family="Liberation Serif" font-size="12.5" font-style="italic" font-weight="bold" fill="#151515" letter-spacing="0.13">d,mode</text>
<rect x="226.7" y="695.4" width="25.3" height="44.9" rx="0" fill="#e3d3e8" stroke="#222" stroke-width="1.7" stroke-dasharray="6.5,3"/>
<circle cx="236.8" cy="702.2" r="2.1" fill="#151515"/>
<circle cx="236.8" cy="732.5" r="2.1" fill="#151515"/>
<polyline points="221.8,671.0 236.8,671.0 236.8,696.0" fill="none" stroke="#151515" stroke-width="1.2"/>
<polygon points="236.8,696.0 233.1,688.7 240.5,688.7" fill="#151515"/>
<polyline points="220.3,778.2 236.8,778.2 236.8,737.0" fill="none" stroke="#151515" stroke-width="1.2"/>
<polygon points="236.8,737.0 233.1,744.3 240.5,744.3" fill="#151515"/>
<polyline points="252.0,763.6 252.0,742.0" fill="none" stroke="#151515" stroke-width="1.2"/>
<polygon points="252.0,742.0 248.2,749.4 255.8,749.4" fill="#151515"/>
<polyline points="261.5,718.6 241.3,703.8" fill="none" stroke="#151515" stroke-width="1.2"/>
<polygon points="241.3,703.8 249.8,705.8 245.7,711.3" fill="#151515"/>
<polyline points="261.5,718.6 261.5,591.0 279.7,591.0" fill="none" stroke="#151515" stroke-width="1.2"/>
<polygon points="279.7,591.0 271.9,587.0 271.9,595.0" fill="#151515"/>
<text x="240.60" y="795.00" font-family="Liberation Serif" font-size="22" font-style="italic" font-weight="bold" fill="#151515">i</text>
<text x="247.40" y="786.30" font-family="Liberation Serif" font-size="14.5" font-style="italic" font-weight="bold" fill="#151515">Δ</text>
<text x="246.00" y="799.40" font-family="Liberation Serif" font-size="12.5" font-style="italic" font-weight="bold" fill="#151515" letter-spacing="0.07">q,mode</text>
<polyline points="305.4,455.6 332.6,455.6" fill="none" stroke="#151515" stroke-width="1.2"/>
<polyline points="332.6,428.4 332.6,484.0" fill="none" stroke="#151515" stroke-width="1.2"/>
<polyline points="332.6,428.4 352.0,428.4" fill="none" stroke="#151515" stroke-width="1.2"/>
<polygon points="352.0,428.4 344.2,424.5 344.2,432.3" fill="#151515"/>
<polyline points="332.6,484.0 350.3,484.0" fill="none" stroke="#151515" stroke-width="1.2"/>
<polygon points="350.3,484.0 342.5,480.1 342.5,487.9" fill="#151515"/>
<rect x="352.0" y="410.0" width="55.6" height="40.2" rx="6.5" fill="#a1dbf5" stroke="#151515" stroke-width="1.5"/>
<text x="357.38" y="438.20" font-family="Liberation Serif" font-size="25" font-style="italic" fill="#151515" stroke="#151515" stroke-width="0.30">K</text>
<text x="377.62" y="426.50" font-family="Liberation Serif" font-size="14.5" font-style="italic" fill="#151515" letter-spacing="-0.10" stroke="#151515" stroke-width="0.20">ICC</text>
<text x="376.25" y="443.30" font-family="Liberation Serif" font-size="12" font-style="italic" fill="#151515" stroke="#151515" stroke-width="0.20">p</text>
<rect x="350.3" y="456.4" width="57.3" height="46.3" rx="6.5" fill="#a0ddb7" stroke="#151515" stroke-width="1.5"/>
<text x="362.75" y="470.70" font-family="Liberation Serif" font-size="14.0"  fill="#151515" stroke="#151515" stroke-width="0.20">1</text>
<polyline points="352.1,477.3 381.0,477.3" fill="none" stroke="#151515" stroke-width="1"/>
<text x="353.20" y="493.00" font-family="Liberation Serif" font-size="16.0" font-style="italic" fill="#151515" stroke="#151515" stroke-width="0.20">T</text>
<text x="359.20" y="497.00" font-family="Liberation Serif" font-size="9" font-style="italic" fill="#151515" stroke="#151515" stroke-width="0.20">i</text>
<text x="362.93" y="485.90" font-family="Liberation Serif" font-size="9.0" font-style="italic" fill="#151515" letter-spacing="-0.09" stroke="#151515" stroke-width="0.20">ICC</text>
<path d="M383.6,487.4 c0.6,1.2 1.8,0.6 1.9,-1.8 l0.4,-16.5 c0.15,-2.7 1.4,-3.4 2.2,-2.2" fill="none" stroke="#151515" stroke-width="1.3" stroke-linecap="round"/>
<circle cx="383.7" cy="487.4" r="0.9" fill="#151515"/><circle cx="388.0" cy="467.0" r="0.9" fill="#151515"/>
<text x="391.90" y="480.80" font-family="Liberation Serif" font-size="14.0" font-style="italic" fill="#151515" letter-spacing="0.05" stroke="#151515" stroke-width="0.20">dt</text>
<polyline points="407.6,428.4 427.1,428.4 427.1,442.7" fill="none" stroke="#151515" stroke-width="1.2"/>
<polygon points="427.1,442.7 423.4,435.4 430.8,435.4" fill="#151515"/>
<polyline points="407.6,480.4 427.1,480.4 427.1,466.1" fill="none" stroke="#151515" stroke-width="1.2"/>
<polygon points="427.1,466.1 423.4,473.4 430.8,473.4" fill="#151515"/>
<polyline points="418.4,436.9 423.6,436.9" fill="none" stroke="#151515" stroke-width="1.4"/>
<polyline points="421.0,434.3 421.0,439.5" fill="none" stroke="#151515" stroke-width="1.4"/>
<polyline points="418.4,471.7 423.6,471.7" fill="none" stroke="#151515" stroke-width="1.4"/>
<polyline points="421.0,469.1 421.0,474.3" fill="none" stroke="#151515" stroke-width="1.4"/>
<circle cx="426.3" cy="454.4" r="11.7" fill="#fff" stroke="#151515" stroke-width="1.3"/>
<text x="422.43" y="458.80" font-family="Liberation Sans" font-size="12.5"  fill="#151515">Σ</text>
<circle cx="292.8" cy="455.6" r="12.9" fill="#fff" stroke="#151515" stroke-width="1.3"/>
<polyline points="283.7,446.5 301.9,464.7" fill="none" stroke="#151515" stroke-width="1.1"/>
<polyline points="283.7,464.7 301.9,446.5" fill="none" stroke="#151515" stroke-width="1.1"/>
<polyline points="281.8,455.6 288.4,455.6" fill="none" stroke="#151515" stroke-width="1.9"/>
<polyline points="285.1,452.3 285.1,458.9" fill="none" stroke="#151515" stroke-width="1.9"/>
<polyline points="289.8,463.3 295.8,463.3" fill="none" stroke="#151515" stroke-width="2.2"/>
<polyline points="292.8,497.2 292.8,468.5" fill="none" stroke="#151515" stroke-width="1.2"/>
<polygon points="292.8,468.5 288.8,476.3 296.8,476.3" fill="#151515"/>
<text x="296.60" y="513.00" font-family="Liberation Serif" font-size="24" font-style="italic" fill="#151515" stroke="#151515" stroke-width="0.30">i</text>
<text x="303.70" y="502.30" font-family="Liberation Serif" font-size="12.5"  fill="#151515" stroke="#151515" stroke-width="0.20">Λ</text>
<text x="301.60" y="518.20" font-family="Liberation Serif" font-size="13" font-style="italic" fill="#151515" stroke="#151515" stroke-width="0.20">d</text>
<polyline points="438.0,454.4 458.0,454.4" fill="none" stroke="#151515" stroke-width="1.2"/>
<polygon points="458.0,454.4 450.6,450.6 450.6,458.2" fill="#151515"/>
<polyline points="471.4,412.0 471.4,441.7" fill="none" stroke="#151515" stroke-width="1.2"/>
<polygon points="471.4,441.7 467.6,434.3 475.2,434.3" fill="#151515"/>
<rect x="453.4" y="482.2" width="44.0" height="30.5" rx="6.5" fill="#f9ceb1" stroke="#151515" stroke-width="1.5"/>
<text x="458.60" y="501.50" font-family="Liberation Serif" font-size="18" font-style="italic" fill="#151515" stroke="#151515" stroke-width="0.30">ω</text>
<text x="470.25" y="501.50" font-family="Liberation Serif" font-size="18" font-style="italic" fill="#151515" stroke="#151515" stroke-width="0.30">L</text>
<text x="481.00" y="493.40" font-family="Liberation Serif" font-size="9.5" font-style="italic" fill="#151515" letter-spacing="-0.20" stroke="#151515" stroke-width="0.20">ac</text>
<text x="480.40" y="505.70" font-family="Liberation Serif" font-size="9.0" font-style="italic" fill="#151515" letter-spacing="-0.20" stroke="#151515" stroke-width="0.20">eq</text>
<polyline points="471.4,482.2 471.4,467.2" fill="none" stroke="#151515" stroke-width="1.2"/>
<polygon points="471.4,467.2 467.6,474.6 475.2,474.6" fill="#151515"/>
<circle cx="470.7" cy="454.4" r="12.9" fill="#fff" stroke="#151515" stroke-width="1.3"/>
<polyline points="461.6,445.3 479.8,463.5" fill="none" stroke="#151515" stroke-width="1.1"/>
<polyline points="461.6,463.5 479.8,445.3" fill="none" stroke="#151515" stroke-width="1.1"/>
<polyline points="459.7,454.4 466.3,454.4" fill="none" stroke="#151515" stroke-width="1.9"/>
<polyline points="463.0,451.1 463.0,457.7" fill="none" stroke="#151515" stroke-width="1.9"/>
<polyline points="467.4,446.7 474.0,446.7" fill="none" stroke="#151515" stroke-width="1.9"/>
<polyline points="470.7,443.4 470.7,450.0" fill="none" stroke="#151515" stroke-width="1.9"/>
<polyline points="467.4,462.1 474.0,462.1" fill="none" stroke="#151515" stroke-width="1.9"/>
<polyline points="470.7,458.8 470.7,465.4" fill="none" stroke="#151515" stroke-width="1.9"/>
<polyline points="483.3,454.4 502.0,454.4" fill="none" stroke="#151515" stroke-width="1.2"/>
<polygon points="502.0,454.4 494.6,450.6 494.6,458.2" fill="#151515"/>
<text x="433.30" y="411.00" font-family="Liberation Serif" font-size="26" font-style="italic" fill="#151515" stroke="#151515" stroke-width="0.30">v</text>
<text x="444.70" y="399.60" font-family="Liberation Serif" font-size="15.5"  fill="#151515" stroke="#151515" stroke-width="0.20">Δ</text>
<text x="444.70" y="418.00" font-family="Liberation Serif" font-size="15.5" font-style="italic" fill="#151515" letter-spacing="1.55" stroke="#151515" stroke-width="0.20">g,d</text>
<text x="505.40" y="460.60" font-family="Liberation Serif" font-size="26" font-style="italic" fill="#151515" stroke="#151515" stroke-width="0.30">v</text>
<text x="516.50" y="449.20" font-family="Liberation Serif" font-size="15.5"  fill="#151515" stroke="#151515" stroke-width="0.20">Δ</text>
<text x="516.75" y="466.50" font-family="Liberation Serif" font-size="13.5" font-style="italic" fill="#151515" letter-spacing="0.12" stroke="#151515" stroke-width="0.20">Md</text>
<text x="419.40" y="504.70" font-family="Liberation Serif" font-size="23" font-style="italic" fill="#151515" stroke="#151515" stroke-width="0.30">i</text>
<text x="425.00" y="494.30" font-family="Liberation Serif" font-size="12.5"  fill="#151515" stroke="#151515" stroke-width="0.20">Λ</text>
<text x="423.20" y="508.20" font-family="Liberation Serif" font-size="12" font-style="italic" fill="#151515" stroke="#151515" stroke-width="0.20">q</text>
<polyline points="434.3,490.1 453.4,490.1" fill="none" stroke="#151515" stroke-width="1.2"/>
<polygon points="453.4,490.1 446.0,486.3 446.0,493.9" fill="#151515"/>
<polyline points="305.4,590.6 332.6,590.6" fill="none" stroke="#151515" stroke-width="1.2"/>
<polyline points="332.6,563.4 332.6,618.2" fill="none" stroke="#151515" stroke-width="1.2"/>
<polyline points="332.6,563.4 352.0,563.4" fill="none" stroke="#151515" stroke-width="1.2"/>
<polygon points="352.0,563.4 344.2,559.5 344.2,567.3" fill="#151515"/>
<polyline points="332.6,618.2 349.3,618.2" fill="none" stroke="#151515" stroke-width="1.2"/>
<polygon points="349.3,618.2 341.5,614.3 341.5,622.1" fill="#151515"/>
<rect x="352.0" y="541.5" width="55.6" height="40.3" rx="6.5" fill="#a1dbf5" stroke="#151515" stroke-width="1.5"/>
<text x="357.38" y="569.70" font-family="Liberation Serif" font-size="25" font-style="italic" fill="#151515" stroke="#151515" stroke-width="0.30">K</text>
<text x="377.62" y="558.00" font-family="Liberation Serif" font-size="13.0" font-style="italic" fill="#151515" stroke="#151515" stroke-width="0.20">ICC</text>
<text x="376.25" y="574.80" font-family="Liberation Serif" font-size="12" font-style="italic" fill="#151515" stroke="#151515" stroke-width="0.20">p</text>
<rect x="349.3" y="585.2" width="60.0" height="47.6" rx="6.5" fill="#a0ddb7" stroke="#151515" stroke-width="1.5"/>
<text x="362.55" y="601.00" font-family="Liberation Serif" font-size="14.0"  fill="#151515" stroke="#151515" stroke-width="0.20">1</text>
<polyline points="351.9,607.6 380.8,607.6" fill="none" stroke="#151515" stroke-width="1"/>
<text x="353.00" y="623.30" font-family="Liberation Serif" font-size="16.0" font-style="italic" fill="#151515" stroke="#151515" stroke-width="0.20">T</text>
<text x="359.00" y="627.30" font-family="Liberation Serif" font-size="9" font-style="italic" fill="#151515" stroke="#151515" stroke-width="0.20">i</text>
<text x="362.73" y="616.20" font-family="Liberation Serif" font-size="8.0" font-style="italic" fill="#151515" stroke="#151515" stroke-width="0.20">ICC</text>
<path d="M383.4,617.7 c0.6,1.2 1.8,0.6 1.9,-1.8 l0.4,-16.5 c0.15,-2.7 1.4,-3.4 2.2,-2.2" fill="none" stroke="#151515" stroke-width="1.3" stroke-linecap="round"/>
<circle cx="383.5" cy="617.7" r="0.9" fill="#151515"/><circle cx="387.8" cy="597.3" r="0.9" fill="#151515"/>
<text x="391.70" y="611.10" font-family="Liberation Serif" font-size="14.0" font-style="italic" fill="#151515" letter-spacing="0.05" stroke="#151515" stroke-width="0.20">dt</text>
<polyline points="407.6,563.4 426.4,563.4 426.4,577.0" fill="none" stroke="#151515" stroke-width="1.2"/>
<polygon points="426.4,577.0 422.7,569.7 430.1,569.7" fill="#151515"/>
<polyline points="409.3,613.7 426.4,613.7 426.4,600.4" fill="none" stroke="#151515" stroke-width="1.2"/>
<polygon points="426.4,600.4 422.7,607.7 430.1,607.7" fill="#151515"/>
<polyline points="417.7,571.2 422.9,571.2" fill="none" stroke="#151515" stroke-width="1.4"/>
<polyline points="420.3,568.6 420.3,573.8" fill="none" stroke="#151515" stroke-width="1.4"/>
<polyline points="417.7,606.0 422.9,606.0" fill="none" stroke="#151515" stroke-width="1.4"/>
<polyline points="420.3,603.4 420.3,608.6" fill="none" stroke="#151515" stroke-width="1.4"/>
<circle cx="425.6" cy="588.7" r="11.7" fill="#fff" stroke="#151515" stroke-width="1.3"/>
<text x="421.73" y="593.10" font-family="Liberation Sans" font-size="12.5"  fill="#151515">Σ</text>
<circle cx="292.8" cy="590.6" r="12.9" fill="#fff" stroke="#151515" stroke-width="1.3"/>
<polyline points="283.7,581.5 301.9,599.7" fill="none" stroke="#151515" stroke-width="1.1"/>
<polyline points="283.7,599.7 301.9,581.5" fill="none" stroke="#151515" stroke-width="1.1"/>
<polyline points="281.8,590.6 288.4,590.6" fill="none" stroke="#151515" stroke-width="1.9"/>
<polyline points="285.1,587.3 285.1,593.9" fill="none" stroke="#151515" stroke-width="1.9"/>
<polyline points="289.8,582.9 295.8,582.9" fill="none" stroke="#151515" stroke-width="2.2"/>
<polyline points="292.8,554.0 292.8,577.8" fill="none" stroke="#151515" stroke-width="1.2"/>
<polygon points="292.8,577.8 288.8,570.0 296.8,570.0" fill="#151515"/>
<text x="296.60" y="554.00" font-family="Liberation Serif" font-size="19" font-style="italic" fill="#151515" stroke="#151515" stroke-width="0.30">i</text>
<text x="301.60" y="545.60" font-family="Liberation Serif" font-size="12.5"  fill="#151515" stroke="#151515" stroke-width="0.20">Λ</text>
<text x="300.60" y="558.30" font-family="Liberation Serif" font-size="12" font-style="italic" fill="#151515" stroke="#151515" stroke-width="0.20">q</text>
<polyline points="437.3,588.7 458.0,588.7" fill="none" stroke="#151515" stroke-width="1.2"/>
<polygon points="458.0,588.7 450.6,584.9 450.6,592.5" fill="#151515"/>
<rect x="453.4" y="530.4" width="44.0" height="30.6" rx="6.5" fill="#f9ceb1" stroke="#151515" stroke-width="1.5"/>
<text x="458.60" y="549.70" font-family="Liberation Serif" font-size="18" font-style="italic" fill="#151515" stroke="#151515" stroke-width="0.30">ω</text>
<text x="470.25" y="549.70" font-family="Liberation Serif" font-size="18" font-style="italic" fill="#151515" stroke="#151515" stroke-width="0.30">L</text>
<text x="481.00" y="541.60" font-family="Liberation Serif" font-size="9.5" font-style="italic" fill="#151515" letter-spacing="-0.20" stroke="#151515" stroke-width="0.20">ac</text>
<text x="480.40" y="553.90" font-family="Liberation Serif" font-size="9.0" font-style="italic" fill="#151515" letter-spacing="-0.20" stroke="#151515" stroke-width="0.20">eq</text>
<polyline points="471.4,561.0 471.4,576.0" fill="none" stroke="#151515" stroke-width="1.2"/>
<polygon points="471.4,576.0 467.6,568.6 475.2,568.6" fill="#151515"/>
<polyline points="471.4,625.8 471.4,601.4" fill="none" stroke="#151515" stroke-width="1.2"/>
<polygon points="471.4,601.4 467.6,608.8 475.2,608.8" fill="#151515"/>
<circle cx="470.7" cy="588.7" r="12.9" fill="#fff" stroke="#151515" stroke-width="1.3"/>
<polyline points="461.6,579.6 479.8,597.8" fill="none" stroke="#151515" stroke-width="1.1"/>
<polyline points="461.6,597.8 479.8,579.6" fill="none" stroke="#151515" stroke-width="1.1"/>
<polyline points="459.7,588.7 466.3,588.7" fill="none" stroke="#151515" stroke-width="1.9"/>
<polyline points="463.0,585.4 463.0,592.0" fill="none" stroke="#151515" stroke-width="1.9"/>
<polyline points="467.7,581.0 473.7,581.0" fill="none" stroke="#151515" stroke-width="2.2"/>
<polyline points="467.4,596.4 474.0,596.4" fill="none" stroke="#151515" stroke-width="1.9"/>
<polyline points="470.7,593.1 470.7,599.7" fill="none" stroke="#151515" stroke-width="1.9"/>
<polyline points="483.3,588.7 502.0,588.7" fill="none" stroke="#151515" stroke-width="1.2"/>
<polygon points="502.0,588.7 494.6,584.9 494.6,592.5" fill="#151515"/>
<text x="504.70" y="584.20" font-family="Liberation Serif" font-size="26" font-style="italic" fill="#151515" stroke="#151515" stroke-width="0.30">v</text>
<text x="515.00" y="572.70" font-family="Liberation Serif" font-size="14.0"  fill="#151515" stroke="#151515" stroke-width="0.20">Δ</text>
<text x="514.25" y="588.70" font-family="Liberation Serif" font-size="13.0" font-style="italic" fill="#151515" letter-spacing="-0.12" stroke="#151515" stroke-width="0.20">Mq</text>
<text x="417.00" y="548.70" font-family="Liberation Serif" font-size="22" font-style="italic" fill="#151515" stroke="#151515" stroke-width="0.30">i</text>
<text x="423.20" y="536.70" font-family="Liberation Serif" font-size="13.0"  fill="#151515" stroke="#151515" stroke-width="0.20">Λ</text>
<text x="421.50" y="552.00" font-family="Liberation Serif" font-size="12" font-style="italic" fill="#151515" stroke="#151515" stroke-width="0.20">d</text>
<polyline points="432.6,551.2 453.4,551.2" fill="none" stroke="#151515" stroke-width="1.2"/>
<polygon points="453.4,551.2 446.0,547.4 446.0,555.0" fill="#151515"/>
<text x="442.30" y="627.60" font-family="Liberation Serif" font-size="27" font-style="italic" fill="#151515" stroke="#151515" stroke-width="0.30">v</text>
<text x="453.40" y="617.20" font-family="Liberation Serif" font-size="14.0"  fill="#151515" stroke="#151515" stroke-width="0.20">Λ</text>
<text x="451.60" y="634.50" font-family="Liberation Serif" font-size="15.5" font-style="italic" fill="#151515" letter-spacing="0.81" stroke="#151515" stroke-width="0.20">g,q</text>
<polyline points="291.8,740.0 291.8,680.8 306.8,680.8" fill="none" stroke="#151515" stroke-width="1.2"/>
<polygon points="306.8,680.8 299.4,677.0 299.4,684.6" fill="#151515"/>
<polyline points="291.0,740.0 291.0,817.0 306.8,817.0" fill="none" stroke="#151515" stroke-width="1.2"/>
<polygon points="306.8,817.0 299.4,813.2 299.4,820.8" fill="#151515"/>
<rect x="279.7" y="728.2" width="24.0" height="23.3" rx="6" fill="#a1dbf5" stroke="#151515" stroke-width="1.5"/>
<text x="287.31" y="745.40" font-family="Liberation Sans" font-size="15"  fill="#151515">0</text>
<polyline points="332.2,680.8 340.6,680.8" fill="none" stroke="#151515" stroke-width="1.2"/>
<polyline points="340.6,653.8 340.6,708.3" fill="none" stroke="#151515" stroke-width="1.2"/>
<polyline points="340.6,653.8 357.3,653.8" fill="none" stroke="#151515" stroke-width="1.2"/>
<polygon points="357.3,653.8 349.5,649.9 349.5,657.7" fill="#151515"/>
<polyline points="340.6,708.3 357.3,708.3" fill="none" stroke="#151515" stroke-width="1.2"/>
<polygon points="357.3,708.3 349.5,704.4 349.5,712.2" fill="#151515"/>
<rect x="357.3" y="638.2" width="52.7" height="39.5" rx="6.5" fill="#a1dbf5" stroke="#151515" stroke-width="1.5"/>
<text x="362.68" y="666.40" font-family="Liberation Serif" font-size="25" font-style="italic" fill="#151515" stroke="#151515" stroke-width="0.30">K</text>
<text x="382.93" y="654.70" font-family="Liberation Serif" font-size="13.5" font-style="italic" fill="#151515" letter-spacing="0.16" stroke="#151515" stroke-width="0.20">ICC</text>
<text x="381.55" y="671.50" font-family="Liberation Serif" font-size="12" font-style="italic" fill="#151515" stroke="#151515" stroke-width="0.20">p</text>
<rect x="357.3" y="682.3" width="57.2" height="48.5" rx="6.5" fill="#a0ddb7" stroke="#151515" stroke-width="1.5"/>
<text x="369.95" y="697.00" font-family="Liberation Serif" font-size="14.0"  fill="#151515" stroke="#151515" stroke-width="0.20">1</text>
<polyline points="359.6,703.6 387.9,703.6" fill="none" stroke="#151515" stroke-width="1"/>
<text x="360.70" y="719.30" font-family="Liberation Serif" font-size="16.0" font-style="italic" fill="#151515" stroke="#151515" stroke-width="0.20">T</text>
<text x="366.70" y="723.30" font-family="Liberation Serif" font-size="9" font-style="italic" fill="#151515" stroke="#151515" stroke-width="0.20">i</text>
<text x="370.43" y="712.20" font-family="Liberation Serif" font-size="8.5" font-style="italic" fill="#151515" stroke="#151515" stroke-width="0.20">ICC</text>
<path d="M390.5,713.7 c0.6,1.2 1.8,0.6 1.9,-1.8 l0.4,-16.5 c0.15,-2.7 1.4,-3.4 2.2,-2.2" fill="none" stroke="#151515" stroke-width="1.3" stroke-linecap="round"/>
<circle cx="390.6" cy="713.7" r="0.9" fill="#151515"/><circle cx="394.9" cy="693.3" r="0.9" fill="#151515"/>
<text x="398.80" y="707.10" font-family="Liberation Serif" font-size="14.0" font-style="italic" fill="#151515" letter-spacing="0.05" stroke="#151515" stroke-width="0.20">dt</text>
<polyline points="410.0,650.3 431.6,650.3 431.6,665.7" fill="none" stroke="#151515" stroke-width="1.2"/>
<polygon points="431.6,665.7 427.9,658.4 435.3,658.4" fill="#151515"/>
<polyline points="414.5,703.0 431.6,703.0 431.6,689.7" fill="none" stroke="#151515" stroke-width="1.2"/>
<polygon points="431.6,689.7 427.9,697.0 435.3,697.0" fill="#151515"/>
<polyline points="422.9,660.2 428.1,660.2" fill="none" stroke="#151515" stroke-width="1.4"/>
<polyline points="425.5,657.6 425.5,662.8" fill="none" stroke="#151515" stroke-width="1.4"/>
<polyline points="422.9,695.0 428.1,695.0" fill="none" stroke="#151515" stroke-width="1.4"/>
<polyline points="425.5,692.4 425.5,697.6" fill="none" stroke="#151515" stroke-width="1.4"/>
<circle cx="430.8" cy="677.7" r="12.0" fill="#fff" stroke="#151515" stroke-width="1.3"/>
<text x="426.93" y="682.10" font-family="Liberation Sans" font-size="12.5"  fill="#151515">Σ</text>
<circle cx="319.6" cy="680.8" r="12.9" fill="#fff" stroke="#151515" stroke-width="1.3"/>
<polyline points="310.5,671.7 328.7,689.9" fill="none" stroke="#151515" stroke-width="1.1"/>
<polyline points="310.5,689.9 328.7,671.7" fill="none" stroke="#151515" stroke-width="1.1"/>
<polyline points="308.6,680.8 315.2,680.8" fill="none" stroke="#151515" stroke-width="1.9"/>
<polyline points="311.9,677.5 311.9,684.1" fill="none" stroke="#151515" stroke-width="1.9"/>
<polyline points="316.6,688.5 322.6,688.5" fill="none" stroke="#151515" stroke-width="2.2"/>
<polyline points="320.0,722.0 320.0,693.5" fill="none" stroke="#555" stroke-width="1.2"/>
<polygon points="320.0,693.5 316.0,701.3 324.0,701.3" fill="#151515"/>
<text x="298.60" y="713.00" font-family="Liberation Serif" font-size="21" font-style="italic" fill="#151515" stroke="#151515" stroke-width="0.30">i</text>
<text x="305.00" y="703.50" font-family="Liberation Serif" font-size="13.5"  fill="#151515" stroke="#151515" stroke-width="0.20">Σ</text>
<text x="302.40" y="719.40" font-family="Liberation Serif" font-size="13" font-style="italic" fill="#151515" stroke="#151515" stroke-width="0.20">d</text>
<polyline points="442.8,677.7 462.5,677.7" fill="none" stroke="#151515" stroke-width="1.2"/>
<polygon points="462.5,677.7 455.1,673.9 455.1,681.5" fill="#151515"/>
<rect x="457.9" y="706.5" width="44.1" height="30.2" rx="6.5" fill="#f9ceb1" stroke="#151515" stroke-width="1.5"/>
<text x="461.20" y="725.80" font-family="Liberation Serif" font-size="18"  fill="#151515" stroke="#151515" stroke-width="0.30">2</text>
<text x="468.40" y="725.80" font-family="Liberation Serif" font-size="18" font-style="italic" fill="#151515" stroke="#151515" stroke-width="0.30">ω</text>
<text x="480.65" y="725.80" font-family="Liberation Serif" font-size="18" font-style="italic" fill="#151515" stroke="#151515" stroke-width="0.30">L</text>
<text x="490.40" y="717.70" font-family="Liberation Serif" font-size="9.0" font-style="italic" fill="#151515" letter-spacing="-0.20" stroke="#151515" stroke-width="0.20">ac</text>
<text x="489.90" y="730.00" font-family="Liberation Serif" font-size="9.0" font-style="italic" fill="#151515" letter-spacing="-0.20" stroke="#151515" stroke-width="0.20">eq</text>
<polyline points="476.0,706.5 476.0,690.5" fill="none" stroke="#151515" stroke-width="1.2"/>
<polygon points="476.0,690.5 472.2,697.9 479.8,697.9" fill="#151515"/>
<circle cx="475.2" cy="677.7" r="12.9" fill="#fff" stroke="#151515" stroke-width="1.3"/>
<polyline points="466.1,668.6 484.3,686.8" fill="none" stroke="#151515" stroke-width="1.1"/>
<polyline points="466.1,686.8 484.3,668.6" fill="none" stroke="#151515" stroke-width="1.1"/>
<polyline points="464.2,677.7 470.8,677.7" fill="none" stroke="#151515" stroke-width="1.9"/>
<polyline points="467.5,674.4 467.5,681.0" fill="none" stroke="#151515" stroke-width="1.9"/>
<polyline points="471.9,685.4 478.5,685.4" fill="none" stroke="#151515" stroke-width="1.9"/>
<polyline points="475.2,682.1 475.2,688.7" fill="none" stroke="#151515" stroke-width="1.9"/>
<polyline points="487.8,677.7 506.0,677.7" fill="none" stroke="#151515" stroke-width="1.2"/>
<polygon points="506.0,677.7 498.6,673.9 498.6,681.5" fill="#151515"/>
<text x="501.30" y="696.00" font-family="Liberation Serif" font-size="27" font-style="italic" fill="#151515" stroke="#151515" stroke-width="0.30">v</text>
<text x="512.40" y="684.70" font-family="Liberation Serif" font-size="14.0"  fill="#151515" stroke="#151515" stroke-width="0.20">Σ</text>
<text x="510.85" y="702.00" font-family="Liberation Serif" font-size="14.0" font-style="italic" fill="#151515" stroke="#151515" stroke-width="0.20">Md</text>
<text x="421.00" y="731.90" font-family="Liberation Serif" font-size="21" font-style="italic" fill="#151515" stroke="#151515" stroke-width="0.30">i</text>
<text x="426.70" y="722.80" font-family="Liberation Serif" font-size="13.5"  fill="#151515" stroke="#151515" stroke-width="0.20">Δ</text>
<text x="425.00" y="735.30" font-family="Liberation Serif" font-size="12" font-style="italic" fill="#151515" stroke="#151515" stroke-width="0.20">q</text>
<polyline points="436.7,719.7 457.9,719.7" fill="none" stroke="#151515" stroke-width="1.2"/>
<polygon points="457.9,719.7 450.5,715.9 450.5,723.5" fill="#151515"/>
<polyline points="332.2,815.3 340.6,815.3" fill="none" stroke="#151515" stroke-width="1.2"/>
<polyline points="340.6,788.4 340.6,842.2" fill="none" stroke="#151515" stroke-width="1.2"/>
<polyline points="340.6,788.4 357.3,788.4" fill="none" stroke="#151515" stroke-width="1.2"/>
<polygon points="357.3,788.4 349.5,784.5 349.5,792.3" fill="#151515"/>
<polyline points="340.6,842.2 357.3,842.2" fill="none" stroke="#151515" stroke-width="1.2"/>
<polygon points="357.3,842.2 349.5,838.3 349.5,846.1" fill="#151515"/>
<rect x="357.3" y="770.0" width="52.7" height="40.0" rx="6.5" fill="#a1dbf5" stroke="#151515" stroke-width="1.5"/>
<text x="362.68" y="798.20" font-family="Liberation Serif" font-size="25" font-style="italic" fill="#151515" stroke="#151515" stroke-width="0.30">K</text>
<text x="382.93" y="786.50" font-family="Liberation Serif" font-size="13.5" font-style="italic" fill="#151515" letter-spacing="0.16" stroke="#151515" stroke-width="0.20">ICC</text>
<text x="381.55" y="803.30" font-family="Liberation Serif" font-size="12" font-style="italic" fill="#151515" stroke="#151515" stroke-width="0.20">p</text>
<rect x="357.3" y="816.8" width="57.2" height="44.4" rx="6.5" fill="#a0ddb7" stroke="#151515" stroke-width="1.5"/>
<text x="369.95" y="831.00" font-family="Liberation Serif" font-size="14.0"  fill="#151515" stroke="#151515" stroke-width="0.20">1</text>
<polyline points="359.6,837.6 387.9,837.6" fill="none" stroke="#151515" stroke-width="1"/>
<text x="360.70" y="853.30" font-family="Liberation Serif" font-size="16.0" font-style="italic" fill="#151515" stroke="#151515" stroke-width="0.20">T</text>
<text x="366.70" y="857.30" font-family="Liberation Serif" font-size="9" font-style="italic" fill="#151515" stroke="#151515" stroke-width="0.20">i</text>
<text x="370.43" y="846.20" font-family="Liberation Serif" font-size="8.5" font-style="italic" fill="#151515" stroke="#151515" stroke-width="0.20">ICC</text>
<path d="M390.5,847.7 c0.6,1.2 1.8,0.6 1.9,-1.8 l0.4,-16.5 c0.15,-2.7 1.4,-3.4 2.2,-2.2" fill="none" stroke="#151515" stroke-width="1.3" stroke-linecap="round"/>
<circle cx="390.6" cy="847.7" r="0.9" fill="#151515"/><circle cx="394.9" cy="827.3" r="0.9" fill="#151515"/>
<text x="398.80" y="841.10" font-family="Liberation Serif" font-size="14.0" font-style="italic" fill="#151515" letter-spacing="0.05" stroke="#151515" stroke-width="0.20">dt</text>
<polyline points="410.0,788.4 427.5,788.4 427.5,802.4" fill="none" stroke="#151515" stroke-width="1.2"/>
<polygon points="427.5,802.4 423.8,795.1 431.2,795.1" fill="#151515"/>
<polyline points="414.5,840.4 427.5,840.4 427.5,826.4" fill="none" stroke="#151515" stroke-width="1.2"/>
<polygon points="427.5,826.4 423.8,833.7 431.2,833.7" fill="#151515"/>
<polyline points="418.8,796.9 424.0,796.9" fill="none" stroke="#151515" stroke-width="1.4"/>
<polyline points="421.4,794.3 421.4,799.5" fill="none" stroke="#151515" stroke-width="1.4"/>
<polyline points="418.8,831.7 424.0,831.7" fill="none" stroke="#151515" stroke-width="1.4"/>
<polyline points="421.4,829.1 421.4,834.3" fill="none" stroke="#151515" stroke-width="1.4"/>
<circle cx="426.7" cy="814.4" r="12.0" fill="#fff" stroke="#151515" stroke-width="1.3"/>
<text x="422.82" y="818.80" font-family="Liberation Sans" font-size="12.5"  fill="#151515">Σ</text>
<circle cx="319.6" cy="815.3" r="12.9" fill="#fff" stroke="#151515" stroke-width="1.3"/>
<polyline points="310.5,806.2 328.7,824.4" fill="none" stroke="#151515" stroke-width="1.1"/>
<polyline points="310.5,824.4 328.7,806.2" fill="none" stroke="#151515" stroke-width="1.1"/>
<polyline points="308.6,815.3 315.2,815.3" fill="none" stroke="#151515" stroke-width="1.9"/>
<polyline points="311.9,812.0 311.9,818.6" fill="none" stroke="#151515" stroke-width="1.9"/>
<polyline points="316.6,807.6 322.6,807.6" fill="none" stroke="#151515" stroke-width="2.2"/>
<polyline points="320.0,778.7 320.0,802.5" fill="none" stroke="#151515" stroke-width="1.2"/>
<polygon points="320.0,802.5 316.0,794.7 324.0,794.7" fill="#151515"/>
<text x="326.00" y="781.00" font-family="Liberation Serif" font-size="22" font-style="italic" fill="#151515" stroke="#151515" stroke-width="0.30">i</text>
<text x="332.00" y="768.60" font-family="Liberation Serif" font-size="14.0"  fill="#151515" stroke="#151515" stroke-width="0.20">Σ</text>
<text x="331.00" y="785.50" font-family="Liberation Serif" font-size="12.5" font-style="italic" fill="#151515" stroke="#151515" stroke-width="0.20">q</text>
<polyline points="438.7,814.4 459.8,814.4" fill="none" stroke="#151515" stroke-width="1.2"/>
<polygon points="459.8,814.4 452.4,810.6 452.4,818.2" fill="#151515"/>
<rect x="448.2" y="752.6" width="45.1" height="31.3" rx="6.5" fill="#f9ceb1" stroke="#151515" stroke-width="1.5"/>
<text x="451.50" y="771.90" font-family="Liberation Serif" font-size="18"  fill="#151515" stroke="#151515" stroke-width="0.30">2</text>
<text x="458.70" y="771.90" font-family="Liberation Serif" font-size="18" font-style="italic" fill="#151515" stroke="#151515" stroke-width="0.30">ω</text>
<text x="470.95" y="771.90" font-family="Liberation Serif" font-size="18" font-style="italic" fill="#151515" stroke="#151515" stroke-width="0.30">L</text>
<text x="480.70" y="763.80" font-family="Liberation Serif" font-size="9.0" font-style="italic" fill="#151515" letter-spacing="-0.20" stroke="#151515" stroke-width="0.20">ac</text>
<text x="480.20" y="776.10" font-family="Liberation Serif" font-size="9.0" font-style="italic" fill="#151515" letter-spacing="-0.20" stroke="#151515" stroke-width="0.20">eq</text>
<polyline points="473.2,783.9 473.2,801.7" fill="none" stroke="#151515" stroke-width="1.2"/>
<polygon points="473.2,801.7 469.4,794.3 477.0,794.3" fill="#151515"/>
<circle cx="472.5" cy="814.4" r="12.9" fill="#fff" stroke="#151515" stroke-width="1.3"/>
<polyline points="463.4,805.3 481.6,823.5" fill="none" stroke="#151515" stroke-width="1.1"/>
<polyline points="463.4,823.5 481.6,805.3" fill="none" stroke="#151515" stroke-width="1.1"/>
<polyline points="461.5,814.4 468.1,814.4" fill="none" stroke="#151515" stroke-width="1.9"/>
<polyline points="464.8,811.1 464.8,817.7" fill="none" stroke="#151515" stroke-width="1.9"/>
<polyline points="469.5,806.7 475.5,806.7" fill="none" stroke="#151515" stroke-width="2.2"/>
<polyline points="485.1,814.4 502.6,814.4" fill="none" stroke="#151515" stroke-width="1.2"/>
<polygon points="502.6,814.4 495.2,810.6 495.2,818.2" fill="#151515"/>
<text x="499.50" y="804.00" font-family="Liberation Serif" font-size="25" font-style="italic" fill="#151515" stroke="#151515" stroke-width="0.30">v</text>
<text x="510.60" y="792.90" font-family="Liberation Serif" font-size="14.0"  fill="#151515" stroke="#151515" stroke-width="0.20">Σ</text>
<text x="509.85" y="809.90" font-family="Liberation Serif" font-size="13.0" font-style="italic" fill="#151515" letter-spacing="-0.23" stroke="#151515" stroke-width="0.20">Mq</text>
<text x="416.00" y="772.80" font-family="Liberation Serif" font-size="22" font-style="italic" fill="#151515" stroke="#151515" stroke-width="0.30">i</text>
<text x="422.80" y="760.60" font-family="Liberation Serif" font-size="13.5"  fill="#151515" stroke="#151515" stroke-width="0.20">Λ</text>
<text x="421.00" y="778.00" font-family="Liberation Serif" font-size="12.5" font-style="italic" fill="#151515" stroke="#151515" stroke-width="0.20">d</text>
<polyline points="430.8,766.5 448.2,766.5" fill="none" stroke="#151515" stroke-width="1.2"/>
<polygon points="448.2,766.5 440.8,762.7 440.8,770.3" fill="#151515"/>
<rect x="20.7" y="841.7" width="255.3" height="142.1" rx="0" fill="none" stroke="#cf4a48" stroke-width="1.3" stroke-dasharray="10,3"/>
<polyline points="28.2,896.1 56.9,896.1" fill="none" stroke="#151515" stroke-width="1.2"/>
<polygon points="56.9,896.1 49.1,892.1 49.1,900.1" fill="#151515"/>
<polyline points="82.1,896.1 90.5,896.1" fill="none" stroke="#151515" stroke-width="1.2"/>
<polyline points="90.5,869.3 90.5,923.0" fill="none" stroke="#151515" stroke-width="1.2"/>
<polyline points="90.5,869.3 107.9,869.3" fill="none" stroke="#151515" stroke-width="1.2"/>
<polygon points="107.9,869.3 100.1,865.4 100.1,873.2" fill="#151515"/>
<polyline points="90.5,923.0 106.5,923.0" fill="none" stroke="#151515" stroke-width="1.2"/>
<polygon points="106.5,923.0 98.7,919.1 98.7,926.9" fill="#151515"/>
<rect x="107.9" y="851.6" width="58.4" height="33.8" rx="6.5" fill="#a1dbf5" stroke="#151515" stroke-width="1.5"/>
<text x="115.65" y="874.70" font-family="Liberation Serif" font-size="21" font-style="italic" fill="#151515" stroke="#151515" stroke-width="0.30">K</text>
<text x="131.75" y="865.80" font-family="Liberation Serif" font-size="12.0" font-style="italic" fill="#151515" letter-spacing="-0.14" stroke="#151515" stroke-width="0.20">DVC</text>
<text x="130.53" y="877.90" font-family="Liberation Serif" font-size="10" font-style="italic" fill="#151515" stroke="#151515" stroke-width="0.20">p</text>
<rect x="106.5" y="893.5" width="59.8" height="49.3" rx="6.5" fill="#a0ddb7" stroke="#151515" stroke-width="1.5"/>
<text x="120.85" y="909.00" font-family="Liberation Serif" font-size="14.98"  fill="#151515" stroke="#151515" stroke-width="0.20">1</text>
<polyline points="109.8,915.6 140.0,915.6" fill="none" stroke="#151515" stroke-width="1"/>
<text x="110.90" y="931.30" font-family="Liberation Serif" font-size="17.12" font-style="italic" fill="#151515" stroke="#151515" stroke-width="0.20">T</text>
<text x="117.40" y="935.30" font-family="Liberation Serif" font-size="9" font-style="italic" fill="#151515" stroke="#151515" stroke-width="0.20">i</text>
<text x="121.37" y="924.20" font-family="Liberation Serif" font-size="8.5" font-style="italic" fill="#151515" letter-spacing="-0.19" stroke="#151515" stroke-width="0.20">DVC</text>
<path d="M142.6,925.7 c0.6,1.2 1.8,0.6 1.9,-1.8 l0.4,-16.5 c0.15,-2.7 1.4,-3.4 2.2,-2.2" fill="none" stroke="#151515" stroke-width="1.3" stroke-linecap="round"/>
<circle cx="142.7" cy="925.7" r="0.9" fill="#151515"/><circle cx="147.0" cy="905.3" r="0.9" fill="#151515"/>
<text x="152.00" y="919.10" font-family="Liberation Serif" font-size="14.5" font-style="italic" fill="#151515" letter-spacing="-0.43" stroke="#151515" stroke-width="0.20">dt</text>
<polyline points="166.3,869.3 189.1,869.3 189.1,884.7" fill="none" stroke="#151515" stroke-width="1.2"/>
<polygon points="189.1,884.7 185.4,877.4 192.8,877.4" fill="#151515"/>
<polyline points="166.3,922.0 189.1,922.0 189.1,908.7" fill="none" stroke="#151515" stroke-width="1.2"/>
<polygon points="189.1,908.7 185.4,916.0 192.8,916.0" fill="#151515"/>
<polyline points="180.4,879.2 185.6,879.2" fill="none" stroke="#151515" stroke-width="1.4"/>
<polyline points="183.0,876.6 183.0,881.8" fill="none" stroke="#151515" stroke-width="1.4"/>
<polyline points="180.4,914.0 185.6,914.0" fill="none" stroke="#151515" stroke-width="1.4"/>
<polyline points="183.0,911.4 183.0,916.6" fill="none" stroke="#151515" stroke-width="1.4"/>
<circle cx="188.3" cy="896.7" r="12.0" fill="#fff" stroke="#151515" stroke-width="1.3"/>
<text x="184.43" y="901.10" font-family="Liberation Sans" font-size="12.5"  fill="#151515">Σ</text>
<circle cx="69.5" cy="896.1" r="12.9" fill="#fff" stroke="#151515" stroke-width="1.3"/>
<polyline points="60.4,887.0 78.6,905.2" fill="none" stroke="#151515" stroke-width="1.1"/>
<polyline points="60.4,905.2 78.6,887.0" fill="none" stroke="#151515" stroke-width="1.1"/>
<polyline points="58.5,896.1 65.1,896.1" fill="none" stroke="#151515" stroke-width="1.9"/>
<polyline points="61.8,892.8 61.8,899.4" fill="none" stroke="#151515" stroke-width="1.9"/>
<polyline points="66.5,903.8 72.5,903.8" fill="none" stroke="#151515" stroke-width="2.2"/>
<polyline points="200.3,896.7 214.0,896.7" fill="none" stroke="#151515" stroke-width="1.2"/>
<polygon points="214.0,896.7 206.7,893.0 206.7,900.4" fill="#151515"/>
<circle cx="225.9" cy="896.7" r="12.0" fill="#fff" stroke="#151515" stroke-width="1.3"/>
<text x="222.03" y="901.10" font-family="Liberation Sans" font-size="12.5"  fill="#151515">Σ</text>
<polyline points="227.2,857.0 227.2,884.7" fill="none" stroke="#151515" stroke-width="1.2"/>
<polygon points="227.2,884.7 223.4,877.3 231.0,877.3" fill="#151515"/>
<polyline points="237.9,896.7 265.8,896.7" fill="none" stroke="#151515" stroke-width="1.2"/>
<polygon points="265.8,896.7 258.0,892.7 258.0,900.7" fill="#151515"/>
<polyline points="70.3,937.4 70.3,908.7" fill="none" stroke="#151515" stroke-width="1.2"/>
<polygon points="70.3,908.7 66.3,916.5 74.3,916.5" fill="#151515"/>
<text x="23.30" y="875.20" font-family="Liberation Serif" font-size="23.5" font-style="italic" fill="#151515" stroke="#151515" stroke-width="0.30">V</text>
<text x="34.70" y="880.00" font-family="Liberation Serif" font-size="13.5" font-style="italic" fill="#151515" stroke="#151515" stroke-width="0.20">ac,ref</text>
<text x="38.20" y="926.20" font-family="Liberation Serif" font-size="27" font-style="italic" fill="#151515" stroke="#151515" stroke-width="0.30">v</text>
<text x="48.00" y="932.00" font-family="Liberation Serif" font-size="13.0" font-style="italic" fill="#151515" letter-spacing="0.15" stroke="#151515" stroke-width="0.20">ac</text>
<text x="194.20" y="860.50" font-family="Liberation Serif" font-size="28" font-style="italic" fill="#151515" stroke="#151515" stroke-width="0.30">v</text>
<text x="205.00" y="867.20" font-family="Liberation Serif" font-size="16.0" font-style="italic" fill="#151515" letter-spacing="0.18" stroke="#151515" stroke-width="0.20">dc</text>
<text x="237.20" y="879.20" font-family="Liberation Serif" font-size="30" font-style="italic" fill="#151515" stroke="#151515" stroke-width="0.30">v</text>
<text x="249.80" y="867.70" font-family="Liberation Serif" font-size="17.0"  fill="#151515" stroke="#151515" stroke-width="0.20">Δ</text>
<text x="249.45" y="886.80" font-family="Liberation Serif" font-size="14.5" font-style="italic" fill="#151515" letter-spacing="0.25" stroke="#151515" stroke-width="0.20">Md</text>
<rect x="188.9" y="928.9" width="23.3" height="22.8" rx="6" fill="#a1dbf5" stroke="#151515" stroke-width="1.5"/>
<text x="196.31" y="945.60" font-family="Liberation Sans" font-size="15"  fill="#151515">0</text>
<polyline points="212.2,938.2 239.8,938.2" fill="none" stroke="#151515" stroke-width="1.2"/>
<polygon points="239.8,938.2 232.0,934.2 232.0,942.2" fill="#151515"/>
<text x="244.40" y="937.00" font-family="Liberation Serif" font-size="24" font-style="italic" fill="#151515" stroke="#151515" stroke-width="0.30">v</text>
<text x="254.60" y="927.50" font-family="Liberation Serif" font-size="14.5"  fill="#151515" stroke="#151515" stroke-width="0.20">Δ</text>
<text x="253.45" y="941.70" font-family="Liberation Serif" font-size="13.0" font-style="italic" fill="#151515" letter-spacing="-0.12" stroke="#151515" stroke-width="0.20">Mq</text>
<text x="45.40" y="972.30" font-family="Liberation Serif" font-size="17.5" font-weight="bold" fill="#c5252b" letter-spacing="0.05">CS A2,A3</text>
</svg></body></html>
